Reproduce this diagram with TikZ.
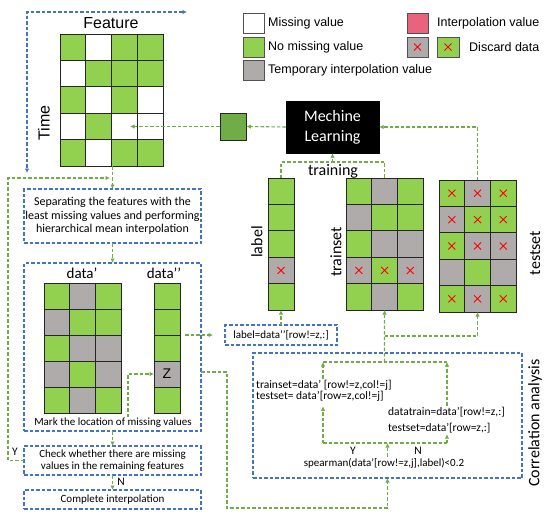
\documentclass[tikz,border=0pt]{standalone}
\usepackage{fontspec}
\setmainfont{Carlito}
\newfontfamily\arialf{Liberation Sans}
\usetikzlibrary{arrows.meta}
\definecolor{cg}{HTML}{92D050}
\definecolor{ca}{HTML}{AFABAB}
\definecolor{cw}{HTML}{FFFFFF}
\definecolor{cdg}{HTML}{70AD47}
\definecolor{cpink}{HTML}{E9637C}
\definecolor{cblue}{HTML}{4472C4}
\definecolor{cline}{HTML}{70AD47}
\definecolor{cedge}{HTML}{262626}
\tikzset{
  cell/.style={draw=cedge, line width=0.9pt},
  xm/.style={draw=red, line width=0.9pt},
  fline/.style={draw=cline, line width=1.1pt, dash pattern=on 3.5pt off 2pt},
  flow/.style={fline, -{Latex[length=4.5pt,width=4.5pt]}},
  axisline/.style={draw=cblue, line width=1.1pt, dash pattern=on 3.5pt off 2pt},
  bbox/.style={draw=cblue, line width=1.1pt, dash pattern=on 3.5pt off 2pt, inner sep=0pt, outer sep=0pt, align=center, font=\fontsize{11}{13.5}\selectfont},
  ghost/.style={inner sep=0pt, outer sep=0pt},
  big/.style={font=\fontsize{16}{18}\selectfont},
  small/.style={font=\fontsize{11}{13}\selectfont, inner sep=1pt},
  mid/.style={font=\fontsize{11.5}{13}\selectfont, inner sep=1pt},
  leg/.style={font=\arialf\fontsize{12.5}{14}\selectfont, anchor=west, inner sep=0pt},
  legbox/.style={draw=cedge!80, line width=0.9pt}
}
\newcommand\drawgrid[5]{%
  \foreach \c/\r/\t/\m in {#5}{%
    \pgfmathsetmacro\xa{#1+\c*#3}%
    \pgfmathsetmacro\ya{#2+\r*#4}%
    \pgfmathsetmacro\xc{\xa+0.5*#3}%
    \pgfmathsetmacro\yc{\ya+0.5*#4}%
    \draw[cell,fill=\t] (\xa,\ya) rectangle ++(#3,#4);
    \ifnum\m=1 \draw[xm] (\xc,\yc) ++(-3.5,-3.5) -- ++(7,7) ++(-7,0) -- ++(7,-7);\fi
  }}
\newcommand\legx[2]{\draw[xm] (#1,#2) ++(-3.5,-3.5) -- ++(7,7) ++(-7,0) -- ++(7,-7);}
\begin{document}
\begin{tikzpicture}[x=1pt,y=-1pt]
\path[use as bounding box] (0,0) rectangle (550,515);

% ---------- main grid ----------
\drawgrid{60}{34}{25.75}{26.4}{0/0/cg/0,1/0/cw/0,2/0/cg/0,3/0/cg/0,
 0/1/cw/0,1/1/cg/0,2/1/cg/0,3/1/cg/0,
 0/2/cg/0,1/2/cw/0,2/2/cg/0,3/2/cw/0,
 0/3/cw/0,1/3/cg/0,2/3/cw/0,3/3/cw/0,
 0/4/cg/0,1/4/cw/0,2/4/cg/0,3/4/cg/0}
\node[ghost, minimum width=103pt, minimum height=132pt] (maingrid) at (111.5,100) {};
\node[font=\arialf\fontsize{16}{18}\selectfont] (feat) at (111,23) {Feature};
\node[font=\arialf\fontsize{16}{18}\selectfont, rotate=90] (time) at (44,123) {Time};
\coordinate (axR) at (187,12);
\coordinate (axC) at (27,12);
\coordinate (axB) at (27,173);
\draw[axisline, {Latex[length=4.5pt,width=4.5pt]}-{Latex[length=4.5pt,width=4.5pt]}] (axR) -- (axC) -- (axB);

% ---------- legend ----------
\draw[legbox, fill=cw] (243,13) rectangle (264,33);
\draw[legbox, fill=cg] (243,37) rectangle (264,57);
\draw[legbox, fill=ca] (243,60) rectangle (264,80);
\node[leg] (l1) at (268,23) {Missing value};
\node[leg] (l2) at (268,47) {No missing value};
\node[leg] (l3) at (268,70) {Temporary interpolation value};
\draw[legbox, fill=cpink] (407,13) rectangle (428,33);
\draw[legbox, fill=ca] (407,37) rectangle (428,57);
\legx{417.5}{47}
\draw[legbox, fill=cg] (437,37) rectangle (459,57);
\legx{448}{47}
\node[leg] (l4) at (437,23) {Interpolation value};
\node[leg] (l5) at (469,47) {Discard data};

% ---------- machine learning ----------
\node[fill=black, draw=black, minimum width=93pt, minimum height=52pt, inner sep=0pt, align=center, text=white, font=\fontsize{16}{20}\selectfont] (ml) at (332.5,127) {Mechine\\Learning};
\node[draw=cedge, line width=0.9pt, fill=cdg, minimum width=26pt, minimum height=27pt, inner sep=0pt] (smallsq) at (233,126.5) {};

% ---------- label / trainset / testset ----------
\drawgrid{268}{178}{26}{26.4}{0/0/cg/0,0/1/cg/0,0/2/cg/0,0/3/ca/1,0/4/cg/0}
\node[ghost, minimum width=26pt, minimum height=132pt] (labelcol) at (281,244) {};
\node[big, rotate=90] (labeltxt) at (257,242) {label};

\drawgrid{346}{178}{25.7}{26.4}{0/0/cg/0,1/0/ca/0,2/0/cg/0,
 0/1/ca/0,1/1/cg/0,2/1/cg/0,
 0/2/cg/0,1/2/ca/0,2/2/ca/0,
 0/3/ca/1,1/3/cg/1,2/3/ca/1,
 0/4/cg/0,1/4/ca/0,2/4/cg/0}
\node[ghost, minimum width=77.1pt, minimum height=132pt] (trainset) at (384.55,244) {};
\node[big, rotate=90] (traintxt) at (336,252) {trainset};

\drawgrid{439}{180}{25.7}{26.4}{0/0/cg/1,1/0/ca/1,2/0/cg/1,
 0/1/ca/1,1/1/cg/1,2/1/cg/1,
 0/2/cg/1,1/2/ca/1,2/2/ca/1,
 0/3/ca/0,1/3/cg/0,2/3/ca/0,
 0/4/cg/1,1/4/ca/1,2/4/cg/1}
\node[ghost, minimum width=77.1pt, minimum height=132pt] (testset) at (477.55,246) {};
\node[big, rotate=90] (testtxt) at (535,253) {testset};

\node[big] (training) at (333,171) {training};
\coordinate (tr) at (0,162);
\draw[fline] (labelcol.north) |- (tr -| trainset.north) -- (trainset.north);
\draw[flow] (ml.south |- tr) -- (ml.south);
\draw[flow] (testset.north) |- (ml.east);
\draw[flow] (ml.west) -- (smallsq.east);
\coordinate (gin) at (130,127);
\draw[flow] (smallsq.west) -- (smallsq.west -| gin);

% ---------- left column ----------
\node[bbox, minimum width=177pt, minimum height=54pt, font=\fontsize{12}{13.5}\selectfont] (sep) at (112.5,216)
  {Separating the features with the\\least missing values and performing\\hierarchical mean interpolation};
\node[bbox, minimum width=177pt, minimum height=168pt] (databox) at (112.5,347) {};
\node[font=\fontsize{15}{17}\selectfont] (dp) at (82,273) {data’};
\node[font=\fontsize{15}{17}\selectfont] (dpp) at (164,273) {data’’};
\drawgrid{44}{283}{25.7}{26}{0/0/cg/0,1/0/ca/0,2/0/cg/0,
 0/1/ca/0,1/1/cg/0,2/1/cg/0,
 0/2/cg/0,1/2/ca/0,2/2/ca/0,
 0/3/ca/0,1/3/cg/0,2/3/ca/0,
 0/4/cg/0,1/4/ca/0,2/4/cg/0}
\drawgrid{154}{283}{26}{26}{0/0/cg/0,0/1/cg/0,0/2/cg/0,0/3/ca/0,0/4/cg/0}
\node[ghost, minimum width=26pt, minimum height=130pt] (dppcol) at (167,348) {};
\node[ghost, minimum width=26pt, minimum height=26pt, font=\arialf\fontsize{14}{14}\selectfont] (zc) at (167,374) {Z};
\node[small] (mark) at (113,423) {Mark the location of missing values};
\coordinate (mzx) at (128,0);
\draw[flow] (mark.north -| mzx) |- (zc.west);

\node[bbox, minimum width=177pt, minimum height=29pt, font=\fontsize{11}{12}\selectfont] (check) at (112.5,460.5)
  {Check whether there are missing\\values in the remaining features};
\node[bbox, minimum width=177pt, minimum height=19pt] (complete) at (112.5,499.5) {Complete interpolation};

\draw[flow] (maingrid.south -| sep.north) -- (sep.north);
\draw[flow] (sep.south) -- (databox.north);
\draw[flow] (databox.south) -- (check.north);
\draw[flow] (check.south) -- (complete.north);
\node[mid] (nlab) at (121,482) {N};
\coordinate (yl) at (8,178);
\coordinate (ye) at (110,178);
\draw[flow] (check.west) -| (yl) -- (ye);
\node[mid] (ylab) at (15,452) {Y};

% ---------- label box ----------
\node[bbox, minimum width=112pt, minimum height=20pt] (lbl) at (281,335) {label=data’’[row!=z,:]};
\draw[flow, shorten <=5pt, shorten >=12pt] (dppcol.east |- lbl.west) -- (lbl.west);
\draw[flow] (lbl.north) -- (labelcol.south);

% ---------- correlation analysis ----------
\node[bbox, minimum width=269pt, minimum height=125pt] (corr) at (387.5,415.5) {};
\node[big, rotate=90] (corrtxt) at (535,423) {Correlation analysis};
\coordinate (c1) at (227,372);
\coordinate (c2) at (227,508);
\draw[flow] (databox.east |- c1) -- (c1) -- (c2) -| (corr.south);

\node[small] (sp) at (384,463) {spearman(data’[row!=z,j],label)<0.2};
\node[mid, anchor=west] (y1) at (255,385) {trainset=data’ [row!=z,col!=j]};
\node[mid, anchor=west] (y2) at (255,396) {testset= data’[row=z,col!=j]};
\node[mid, anchor=west] (n1) at (387,412) {datatrain=data’[row!=z,:]};
\node[mid, anchor=west] (n2) at (387,428) {testset=data’[row=z,:]};
\node[mid] (ylab2) at (353,451) {Y};
\node[mid] (nlab2) at (418,451) {N};
\coordinate (yL) at (323,0);
\coordinate (nR) at (447,0);
\coordinate (hA) at (384.5,362);
\coordinate (hB) at (387.5,443);
\coordinate (hC) at (384.5,336);
\draw[flow] (sp.north -| corr.south) -- (hB);
\draw[fline] (hB -| yL) -- (hB -| nR);
\draw[flow, shorten >=4pt] (hB -| yL) -- (y2.south -| yL);
\draw[flow] (hB -| nR) -- (n2.south -| nR);
\draw[flow] (y1.north -| yL) -- (hA -| yL);
\draw[flow] (n1.north -| nR) -- (hA -| nR);
\draw[fline] (hA -| yL) -- (hA -| nR);
\draw[flow] (hA) -- (trainset.south);
\draw[flow] (hC) -| (testset.south);
\end{tikzpicture}
\end{document}
